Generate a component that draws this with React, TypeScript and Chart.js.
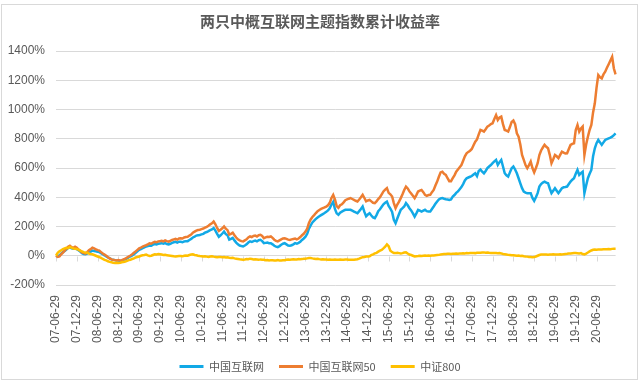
import React, { useEffect, useRef } from "react";
import { Chart, registerables } from "chart.js";

Chart.register(...registerables);

const title = "两只中概互联网主题指数累计收益率";
const seriesNames = ["中国互联网", "中国互联网50", "中证800"];
const seriesColors = ["#12A9E6", "#ED7D31", "#FFC000"];

// one tick label every half year; 12 observations per half year
const PER_TICK = 12;
const tickLabels = [
  "07-06-29", "07-12-29", "08-06-29", "08-12-29", "09-06-29", "09-12-29",
  "10-06-29", "10-12-29", "11-06-29", "11-12-29", "12-06-29", "12-12-29",
  "13-06-29", "13-12-29", "14-06-29", "14-12-29", "15-06-29", "15-12-29",
  "16-06-29", "16-12-29", "17-06-29", "17-12-29", "18-06-29", "18-12-29",
  "19-06-29", "19-12-29", "20-06-29",
];

// cumulative return, %
const chinaInternet = [
  0, -3, 2, 15, 25, 32, 42, 55, 58, 50, 48, 52,
  45, 38, 28, 17, 12, 10, 15, 22, 28, 35, 33, 30,
  27, 25, 18, 10, 3, -5, -12, -18, -25, -28, -30, -33,
  -32, -35, -33, -28, -25, -18, -10, -5, 2, 10, 20, 30,
  40, 45, 52, 58, 62, 66, 70, 68, 76, 80, 78, 82,
  84, 86, 82, 86, 80, 78, 82, 88, 92, 95, 90, 96,
  95, 92, 98, 100, 100, 108, 115, 125, 130, 138, 140, 142,
  146, 150, 158, 162, 168, 175, 180, 189, 172, 150, 130, 140,
  152, 166, 148, 140, 110, 115, 122, 105, 90, 78, 70, 66,
  64, 70, 78, 90, 98, 94, 100, 104, 98, 106, 109, 100,
  86, 88, 90, 86, 86, 78, 68, 62, 59, 66, 75, 82,
  86, 78, 70, 68, 72, 78, 86, 82, 88, 96, 108, 118,
  130, 150, 185, 208, 228, 240, 252, 262, 270, 278, 285, 292,
  300, 310, 325, 350, 368, 320, 290, 280, 295, 302, 308, 314,
  314, 315, 314, 308, 302, 296, 291, 305, 320, 337, 300, 270,
  282, 291, 275, 262, 257, 278, 305, 318, 335, 352, 362, 370,
  340, 322, 300, 246, 223, 255, 285, 314, 325, 337, 360, 345,
  325, 310, 290, 268, 290, 314, 308, 302, 308, 314, 305, 302,
  302, 320, 337, 355, 371, 385, 392, 394, 390, 387, 385, 382,
  385, 405, 415, 430, 440, 455, 470, 490, 515, 530, 535, 540,
  545, 555, 564, 545, 580, 590, 575, 564, 580, 599, 610, 620,
  633, 645, 655, 621, 640, 655, 610, 564, 550, 541, 570, 598,
  610, 590, 564, 530, 495, 462, 439, 432, 428, 428, 428, 395,
  375, 400, 428, 473, 490, 500, 507, 500, 496, 460, 428, 445,
  462, 445, 428, 445, 462, 468, 470, 473, 490, 507, 520, 530,
  560, 587, 553, 565, 575, 428, 480, 530, 560, 587, 680, 735,
  770, 792, 775, 758, 775, 792, 798, 803, 808, 814, 825, 837,
];

const chinaInternet50 = [
  0, -8, -5, 10, 22, 35, 48, 62, 68, 58, 55, 62,
  55, 42, 35, 22, 18, 14, 25, 38, 45, 55, 50, 44,
  38, 35, 25, 15, 8, 0, -10, -18, -25, -28, -30, -32,
  -30, -32, -30, -25, -20, -12, -5, 2, 10, 20, 30, 40,
  50, 55, 62, 68, 72, 78, 85, 82, 90, 95, 92, 98,
  100, 102, 98, 105, 100, 96, 102, 108, 112, 115, 110, 118,
  120, 118, 125, 128, 130, 138, 145, 158, 165, 172, 176, 178,
  182, 186, 192, 198, 205, 215, 222, 234, 215, 190, 170, 178,
  188, 200, 185, 175, 145, 150, 158, 140, 125, 112, 105, 100,
  98, 105, 112, 125, 132, 128, 135, 138, 132, 140, 143, 135,
  120, 125, 130, 128, 132, 122, 110, 102, 98, 105, 112, 118,
  120, 115, 110, 108, 112, 115, 117, 112, 118, 128, 140, 150,
  165, 185, 225, 248, 265, 278, 292, 305, 313, 320, 325, 330,
  336, 345, 362, 395, 416, 385, 340, 328, 345, 352, 365, 380,
  385, 390, 394, 388, 382, 376, 371, 385, 400, 416, 395, 372,
  378, 382, 372, 362, 360, 372, 388, 400, 420, 440, 452, 462,
  430, 420, 405, 360, 325, 350, 370, 394, 420, 450, 473, 460,
  440, 425, 410, 394, 415, 439, 445, 450, 435, 416, 410, 415,
  416, 435, 450, 480, 507, 540, 570, 575, 560, 553, 530, 510,
  510, 530, 550, 575, 590, 605, 620, 650, 680, 700, 710, 718,
  730, 755, 780, 795, 830, 860, 855, 849, 865, 883, 890, 900,
  906, 935, 962, 928, 945, 951, 900, 860, 855, 849, 880, 915,
  925, 900, 837, 814, 760, 689, 655, 620, 599, 620, 644, 600,
  570, 600, 633, 689, 720, 740, 758, 745, 735, 690, 633, 660,
  689, 680, 667, 690, 712, 705, 700, 701, 730, 758, 765, 769,
  860, 894, 849, 870, 883, 689, 760, 814, 860, 894, 980, 1042,
  1150, 1235, 1220, 1213, 1240, 1258, 1285, 1310, 1335, 1360, 1280, 1240,
];

const csi800 = [
  0, 20, 30, 38, 45, 50, 55, 52, 60, 55, 50, 48,
  46, 42, 35, 30, 25, 22, 20, 15, 12, 10, 5, 0,
  -5, -10, -15, -22, -28, -32, -38, -42, -45, -48, -50, -48,
  -50, -48, -45, -42, -40, -35, -30, -28, -22, -18, -12, -8,
  -5, 0, 3, 5, 8, 2, -2, 0, 5, 10, 8, 12,
  10, 8, 5, 6, 4, 2, 0, -2, -4, -5, -3, -2,
  -2, -4, 0, 2, 0, 5, 8, 10, 5, 3, 0, -2,
  -3, -5, -4, -6, -8, -5, -3, -6, -8, -10, -8, -9,
  -10, -9, -12, -10, -13, -15, -14, -18, -20, -22, -24, -25,
  -27, -25, -22, -24, -20, -22, -25, -24, -26, -28, -25, -27,
  -28, -30, -29, -32, -30, -31, -33, -32, -30, -32, -33, -31,
  -30, -28, -26, -27, -25, -24, -26, -25, -22, -24, -23, -20,
  -20, -18, -16, -15, -18, -20, -22, -20, -23, -25, -24, -26,
  -25, -27, -26, -28, -27, -26, -28, -27, -26, -28, -27, -26,
  -26, -27, -28, -27, -27, -25, -24, -20, -15, -10, -8, -5,
  -5, -3, 5, 10, 16, 20, 28, 35, 40, 50, 62, 78,
  65, 35, 25, 18, 18, 20, 18, 16, 18, 22, 23, 15,
  8, 5, 0, -5, -3, -2, 0, -2, 0, 2, 0, 1,
  0, 2, 2, 4, 5, 6, 8, 10, 12, 12, 14, 13,
  12, 14, 13, 15, 14, 16, 15, 17, 16, 18, 17, 18,
  18, 19, 18, 20, 21, 20, 22, 23, 21, 22, 20, 19,
  18, 19, 18, 17, 18, 16, 12, 10, 8, 6, 5, 4,
  4, 2, 0, 1, -2, 0, -3, -5, -6, -8, -9, -10,
  -9, -5, 0, 5, 8, 9, 8, 9, 7, 8, 9, 10,
  9, 8, 9, 10, 9, 11, 12, 13, 15, 16, 17, 18,
  18, 17, 16, 18, 12, 9, 15, 22, 30, 36, 41, 42,
  41, 42, 43, 42, 44, 45, 44, 46, 45, 47, 48, 48,
];

const yMin = -200;
const yMax = 1400;
const yStep = 200;

const categories = chinaInternet.map((_, i) =>
  i % PER_TICK === 0 && tickLabels[i / PER_TICK] ? tickLabels[i / PER_TICK] : ""
);

const TEXT = "#595959";
const GRID = "#d9d9d9";
const FONT_CJK = "'Noto Sans CJK SC', 'Microsoft YaHei', sans-serif";
const FONT_NUM = "'Liberation Sans', Arial, sans-serif";

const decorPlugin = {
  id: "decor",
  beforeDraw(chart: any) {
    const { ctx, width, height } = chart;
    ctx.save();
    ctx.fillStyle = "#ffffff";
    ctx.fillRect(0, 0, width, height);
    ctx.strokeStyle = GRID;
    ctx.lineWidth = 1;
    ctx.strokeRect(1.5, 4.5, width - 4, height - 7);
    ctx.restore();
  },
  beforeDatasetsDraw(chart: any) {
    const { ctx } = chart;
    const xs = chart.scales.x;
    const ys = chart.scales.y;
    const y0 = Math.round(ys.getPixelForValue(0)) + 0.5;
    ctx.save();
    ctx.strokeStyle = GRID;
    ctx.lineWidth = 1;
    ctx.beginPath();
    tickLabels.forEach((_, j) => {
      const px = Math.round(xs.getPixelForValue(j * PER_TICK)) + 0.5;
      ctx.moveTo(px, y0);
      ctx.lineTo(px, y0 + 5);
    });
    ctx.stroke();
    ctx.restore();
  },
};

export default function App() {
  const ref = useRef<HTMLCanvasElement | null>(null);

  useEffect(() => {
    if (!ref.current) return;
    const values = [chinaInternet, chinaInternet50, csi800];
    const chart = new Chart(ref.current, {
      type: "line",
      data: {
        labels: categories,
        datasets: values.map((v, i) => ({
          label: seriesNames[i],
          data: v,
          borderColor: seriesColors[i],
          backgroundColor: seriesColors[i],
          borderWidth: 2.5,
          pointRadius: 0,
          tension: 0,
          order: 3 - i,
        })),
      },
      options: {
        animation: false,
        responsive: false,
        maintainAspectRatio: false,
        layout: { padding: { left: 0, right: 0, top: 0, bottom: 0 } },
        plugins: {
          title: {
            display: true,
            text: title,
            color: TEXT,
            font: { family: FONT_CJK, size: 15, weight: "bold" },
            padding: { top: 12, bottom: 21 },
          },
          legend: {
            display: true,
            position: "bottom",
            labels: {
              color: TEXT,
              font: { family: FONT_CJK, size: 11 },
              boxWidth: 24,
              boxHeight: 3,
              padding: 15,
              generateLabels: (chart: any) =>
                Chart.defaults.plugins.legend.labels
                  .generateLabels(chart)
                  .map((l: any) => ({ ...l, lineWidth: 0, strokeStyle: l.fillStyle })),
              sort: (a: any, b: any) => a.datasetIndex - b.datasetIndex,
            },
          },
          tooltip: { enabled: false },
        },
        scales: {
          x: {
            type: "category",
            offset: false,
            grid: { display: false, drawTicks: false },
            border: { display: false },
            ticks: {
              autoSkip: false,
              minRotation: 90,
              maxRotation: 90,
              padding: 10,
              color: TEXT,
              font: { family: FONT_NUM, size: 12 },
            },
            afterFit: (s: any) => {
              s.height = 61;
            },
          },
          y: {
            min: yMin,
            max: yMax,
            grid: { color: GRID, lineWidth: 1, drawTicks: false },
            border: { display: false },
            ticks: {
              stepSize: yStep,
              padding: 11,
              color: TEXT,
              font: { family: FONT_NUM, size: 12 },
              callback: (v: any) => v + "%",
            },
            afterFit: (s: any) => {
              s.width = 56;
            },
          },
          y2: {
            position: "right",
            display: true,
            grid: { display: false, drawTicks: false },
            border: { display: false },
            ticks: { display: false },
            afterFit: (s: any) => {
              s.width = 17;
            },
          },
        },
      },
      plugins: [decorPlugin],
    } as any);
    return () => chart.destroy();
  }, []);

  return (
    <div style={{ position: "fixed", left: 0, top: 0, width: 640, height: 382, background: "#fff" }}>
      <canvas ref={ref} width={640} height={382} style={{ display: "block", width: 640, height: 382 }} />
    </div>
  );
}
